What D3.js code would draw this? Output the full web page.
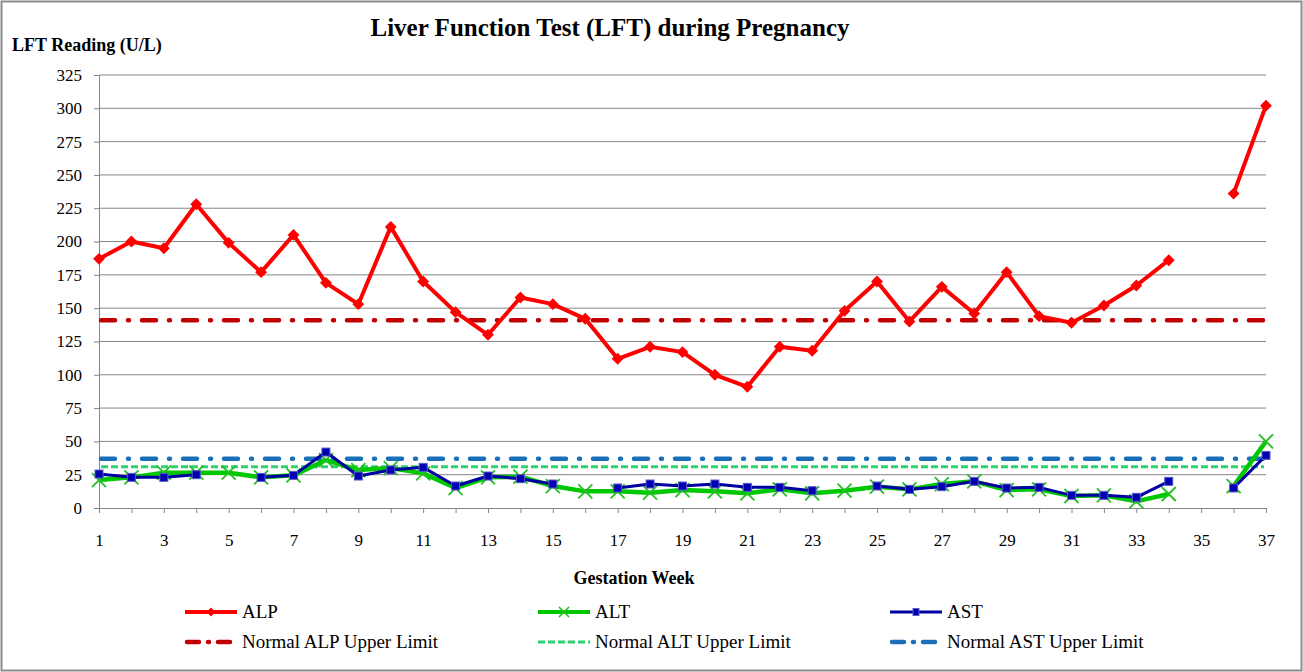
<!DOCTYPE html>
<html>
<head>
<meta charset="utf-8">
<script src="https://cdn.jsdelivr.net/npm/d3@7"></script>
<style>
  body { margin: 0; background: #fff; }
  svg text { font-family: "Liberation Serif", "Times New Roman", "DejaVu Serif", serif; fill: #000; }
  .grid line { stroke: #868686; stroke-width: 1; }
  .axis path, .axis line { stroke: #868686; }
</style>
</head>
<body>
<svg id="chart"></svg>
<script>
// gestation weeks (categories)
const weeks = d3.range(1, 38);
const xLabels = weeks.filter(w => w % 2 === 1);
const yTicks = d3.range(0, 326, 25);

// readings in U/L, null = no test that week
const alp = [187, 200, 195, 228, 199, 177, 205, 169, 153, 211, 170, 147, 130, 158, 153, 142, 112, 121, 117, 100,
             91, 121, 118, 148, 170, 140, 166, 146, 177, 144, 139, 152, 167, 186, null, 236, 302];
const alt = [21, 23, 26.5, 26.5, 26.5, 23, 24.5, 36, 28.5, 30, 26, 15, 23, 23.5, 16.5, 12.5, 12.5, 11.5, 13.5, 12.5,
             11, 14, 11, 13, 16, 14, 18, 20, 13.5, 14, 9, 9.5, 5, 10.5, null, 16.5, 50];
const ast = [25.5, 23, 23, 25, null, 23, 24.5, 42, 24, 28.5, 30.5, 16.5, 24, 22, 18, null, 15, 18, 16.5, 18,
             15.5, 15.5, 13, null, 16.5, 14, 16, 20, 15, 15.5, 9.5, 9.5, 8, 20, null, 15, 39.5];

// normal upper limits
const alpLimit = 141;
const altLimit = 31;
const astLimit = 37;

const W = 1303, H = 672;
const margin = {top: 75, right: 37, bottom: 164, left: 99};
const width = W - margin.left - margin.right;
const height = H - margin.top - margin.bottom;
const serif = '"Liberation Serif", "Times New Roman", serif';

const svg = d3.select('#chart').attr('width', W).attr('height', H);

// outer frame
svg.append('rect')
    .attr('x', 1.5).attr('y', 1.5)
    .attr('width', W - 3).attr('height', H - 3)
    .attr('fill', '#fff').attr('stroke', '#8c8c8c').attr('stroke-width', 2);

const chart = svg.append('g')
    .attr('transform', `translate(${margin.left},${margin.top})`);

const xScale = d3.scalePoint().domain(weeks).range([0, width]);
const yScale = d3.scaleLinear().domain([0, 325]).range([height, 0]);

// gridlines
chart.append('g').attr('class', 'grid')
  .selectAll('line').data(yTicks.filter(t => t > 0)).join('line')
    .attr('x1', 0).attr('x2', width)
    .attr('y1', d => yScale(d)).attr('y2', d => yScale(d));

// axes
const yAxis = d3.axisLeft(yScale).tickValues(yTicks).tickSize(5).tickSizeOuter(0).tickPadding(12);
chart.append('g').attr('class', 'axis y-axis')
    .call(yAxis)
    .attr('font-family', serif).attr('font-size', 17);

const xAxis = d3.axisBottom(xScale).tickSize(5).tickSizeOuter(0).tickPadding(21)
    .tickFormat(d => xLabels.includes(d) ? d : '');
chart.append('g').attr('class', 'axis x-axis')
    .attr('transform', `translate(0,${height})`)
    .call(xAxis)
    .attr('font-family', serif).attr('font-size', 17);

// limit lines
const dashDot = '14,13,1,13';
const limits = [
  {v: alpLimit, color: '#c00000', dash: dashDot, w: 4.5, cap: 'round'},
  {v: altLimit, color: '#2fd070', dash: '7,3', w: 3, cap: 'butt'},
  {v: astLimit, color: '#1a6fb8', dash: dashDot, w: 4.5, cap: 'round'}
];
chart.selectAll('.limit').data(limits).join('line')
    .attr('class', 'limit')
    .attr('x1', 2).attr('x2', width - 2)
    .attr('y1', d => yScale(d.v)).attr('y2', d => yScale(d.v))
    .attr('stroke', d => d.color).attr('stroke-width', d => d.w)
    .attr('stroke-dasharray', d => d.dash).attr('stroke-linecap', d => d.cap);

const line = d3.line()
    .defined(d => d.v != null)
    .x(d => xScale(d.w))
    .y(d => yScale(d.v));

const toPts = arr => arr.map((v, i) => ({w: weeks[i], v: v}));

// ALP
chart.append('path').datum(toPts(alp))
    .attr('d', line).attr('fill', 'none')
    .attr('stroke', '#ff0000').attr('stroke-width', 4).attr('stroke-linejoin', 'round');
chart.selectAll('.alp-pt').data(toPts(alp).filter(d => d.v != null)).join('path')
    .attr('class', 'alp-pt')
    .attr('transform', d => `translate(${xScale(d.w)},${yScale(d.v)})`)
    .attr('d', d3.symbol(d3.symbolDiamond2, 90))
    .attr('fill', '#ff0000');

// ALT
chart.append('path').datum(toPts(alt))
    .attr('d', line).attr('fill', 'none')
    .attr('stroke', '#00c800').attr('stroke-width', 4.5).attr('stroke-linejoin', 'round');
chart.selectAll('.alt-pt').data(toPts(alt).filter(d => d.v != null)).join('path')
    .attr('class', 'alt-pt')
    .attr('transform', d => `translate(${xScale(d.w)},${yScale(d.v)})`)
    .attr('d', 'M-7,-7L7,7M-7,7L7,-7')
    .attr('stroke', '#22c022').attr('stroke-width', 1.8).attr('fill', 'none');

// AST
chart.append('path').datum(toPts(ast))
    .attr('d', line).attr('fill', 'none')
    .attr('stroke', '#0000a0').attr('stroke-width', 3).attr('stroke-linejoin', 'round');
chart.selectAll('.ast-pt').data(toPts(ast).filter(d => d.v != null)).join('rect')
    .attr('class', 'ast-pt')
    .attr('x', d => xScale(d.w) - 4).attr('y', d => yScale(d.v) - 4)
    .attr('width', 8).attr('height', 8)
    .attr('fill', '#0000b0').attr('stroke', '#5a5ac8').attr('stroke-width', 1);

// titles
svg.append('text')
    .attr('x', 610).attr('y', 36)
    .attr('text-anchor', 'middle')
    .style('font-size', '25px').style('font-weight', 'bold')
    .text('Liver Function Test (LFT)  during Pregnancy');

svg.append('text')
    .attr('x', 12).attr('y', 51)
    .style('font-size', '18px').style('font-weight', 'bold')
    .text('LFT Reading (U/L)');

svg.append('text')
    .attr('x', 634).attr('y', 584)
    .attr('text-anchor', 'middle')
    .style('font-size', '18px').style('font-weight', 'bold')
    .text('Gestation Week');

// legend
const legendItems = [
  {name: 'ALP', col: 0, row: 0, color: '#ff0000', w: 4, marker: 'diamond'},
  {name: 'ALT', col: 1, row: 0, color: '#00c800', w: 4, marker: 'x'},
  {name: 'AST', col: 2, row: 0, color: '#0000a0', w: 3, marker: 'square'},
  {name: 'Normal ALP Upper Limit', col: 0, row: 1, color: '#c00000', w: 4.5, dash: '12,9,1,9', cap: 'round'},
  {name: 'Normal ALT Upper Limit', col: 1, row: 1, color: '#2fd070', w: 3, dash: '7,3'},
  {name: 'Normal AST Upper Limit', col: 2, row: 1, color: '#1a6fb8', w: 4.5, dash: '12,9,1,9', cap: 'round'}
];
const colX = [185, 538, 890];
const rowY = [612, 642];

const leg = svg.append('g').selectAll('g').data(legendItems).join('g')
    .attr('transform', d => `translate(${colX[d.col]},${rowY[d.row]})`);

leg.append('line')
    .attr('x1', d => d.cap ? 2 : 0).attr('x2', d => d.cap ? 50 : 52).attr('y1', 0).attr('y2', 0)
    .attr('stroke', d => d.color).attr('stroke-width', d => d.w)
    .attr('stroke-dasharray', d => d.dash || null)
    .attr('stroke-linecap', d => d.cap || 'butt');

leg.filter(d => d.marker === 'diamond').append('path')
    .attr('transform', 'translate(26,0)')
    .attr('d', d3.symbol(d3.symbolDiamond2, 50)).attr('fill', '#ff0000');
leg.filter(d => d.marker === 'x').append('path')
    .attr('d', 'M21,-5L31,5M21,5L31,-5')
    .attr('stroke', '#22c022').attr('stroke-width', 1.6);
leg.filter(d => d.marker === 'square').append('rect')
    .attr('x', 23).attr('y', -3.5).attr('width', 6).attr('height', 7)
    .attr('fill', '#0000b0').attr('stroke', '#5a5ac8');

leg.append('text')
    .attr('x', 57).attr('y', 6)
    .style('font-size', '19px')
    .text(d => d.name);
</script>
</body>
</html>
